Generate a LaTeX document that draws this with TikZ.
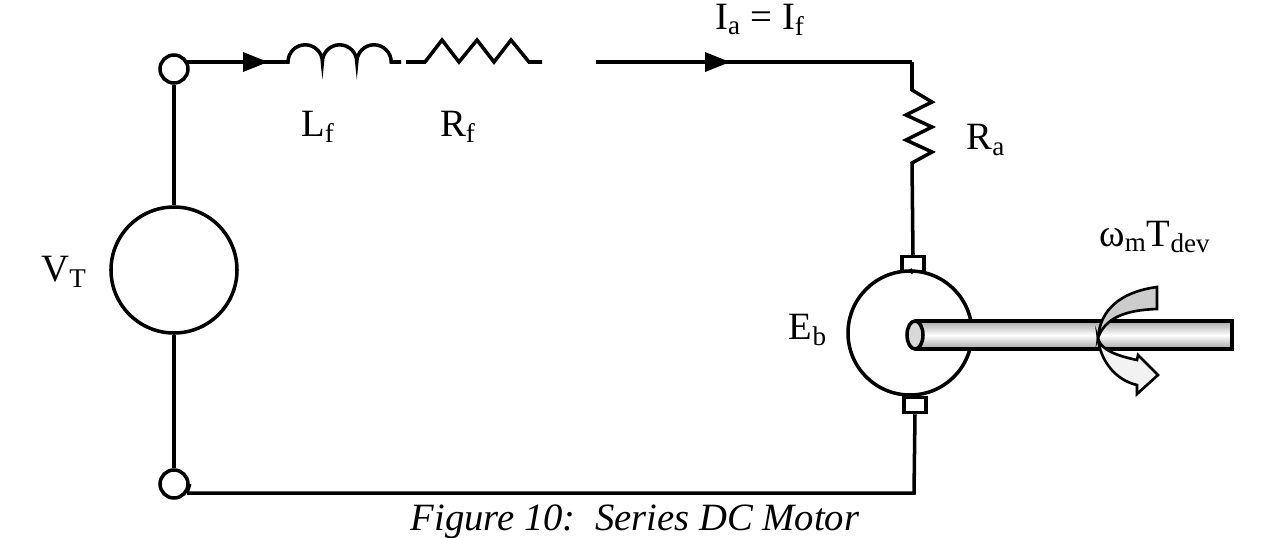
\documentclass[tikz,border=0pt]{standalone}
\usepackage{fontspec}
\setmainfont{Liberation Serif}
\begin{document}
\begin{tikzpicture}[x=0.02cm,y=-0.02cm,line width=2pt,
  term/.style={circle,draw,minimum size=28*0.02cm,inner sep=0pt},
  lbl/.style={font=\fontsize{22}{26}\selectfont,inner sep=0pt},
  brush/.style={draw,minimum width=22*0.02cm,minimum height=15*0.02cm,inner sep=0pt}]
\useasboundingbox (0,0) rectangle (1269,538);
\node[term] (t1) at (174,69) {};
\node[term] (t2) at (174,484) {};
\node[circle,draw,minimum size=126*0.02cm,inner sep=0pt] (vs) at (174,270) {};
\node[circle,draw,minimum size=124*0.02cm,inner sep=0pt] (mot) at (910,333) {};
\node[brush] (b1) at (913,264) {};
\node[brush] (b2) at (915,405) {};
\coordinate (w1) at (187,62);
\coordinate (tr) at (912,62);
\coordinate (br) at (914,493);
\coordinate (bl) at (187,493);
% wires
\draw (t1) -- (vs);
\draw (vs) -- (t2);
\draw (w1) -- (268,62);
\fill (268,62) -- (243,52) -- (243,72) -- cycle;
% inductor
\draw (268,62) -- (288,62) arc (180:360:17.2) arc (180:360:17.2) arc (180:360:17.2) -- (401,62);
% resistor Rf
\draw (406,62) -- (425,62) -- (442,40) -- (459,62) -- (477,40) -- (494,62) -- (511,40) -- (529,62) -- (542,62);
\draw (596,62) -- (tr);
\fill (730,62) -- (705,52) -- (705,72) -- cycle;
% Ra
\draw (tr) -- (912,90) -- (932,102) -- (906,115) -- (932,127) -- (906,140) -- (932,152) -- (912,163) -- (b1.north);
\draw (b1.south) -- (mot.north);
\draw (b2.south) -- (br) -- (bl);
\draw (t2.east) -- (bl);
% shaft
\shade[top color=gray!70,bottom color=gray!70,middle color=white] (915,321) rectangle (1232,349);
\draw (915,321) -- (1232,321) -- (1232,349) -- (915,349);
\draw[fill=gray!30] (915,335) ellipse (8 and 14);
% torque arrow
\draw[fill=gray!40,line width=1.5pt] (1157,287) .. controls (1120,292) and (1100,310) .. (1098,338)
  .. controls (1105,318) and (1125,310) .. (1157,309) -- cycle;
\draw[fill=gray!10,line width=1.5pt] (1098,338) .. controls (1100,360) and (1115,380) .. (1137,385)
  -- (1137,394) -- (1158,375) -- (1138,355) -- (1137,360)
  .. controls (1118,356) and (1100,350) .. (1098,338) -- cycle;
% labels
\node[lbl] (lf) at (318,127) {L\textsubscript{f}};
\node[lbl] (rf) at (458,127) {R\textsubscript{f}};
\node[lbl] (ia) at (760,20) {I\textsubscript{a} = I\textsubscript{f}};
\node[lbl] (ra) at (986,140) {R\textsubscript{a}};
\node[lbl] (vt) at (64,272) {V\textsubscript{T}};
\node[lbl] (eb) at (808,330) {E\textsubscript{b}};
\node[lbl] (wt) at (1155,237) {ω\textsubscript{m}T\textsubscript{dev}};
\node[lbl,font=\fontsize{22}{26}\selectfont\itshape] (cap) at (635,522) {Figure 10:\ \ Series DC Motor};
\end{tikzpicture}
\end{document}
